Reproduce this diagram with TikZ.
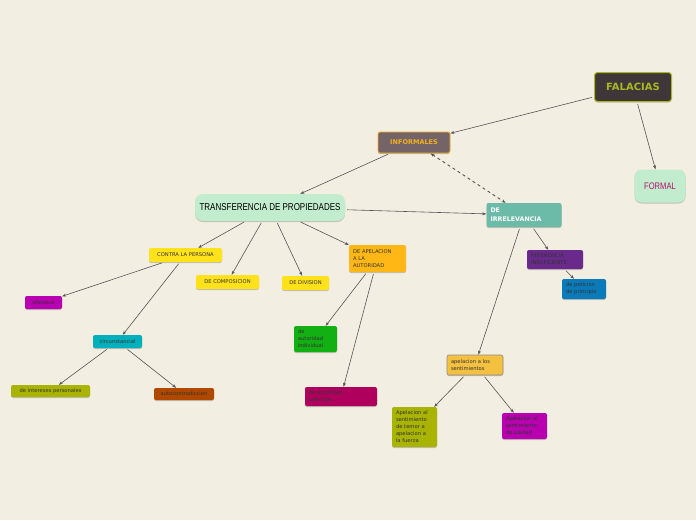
\documentclass[tikz,border=0pt]{standalone}
\usepackage{fontspec}
\setmainfont{DejaVu Sans}
\newfontfamily\narrowfont[FakeStretch=0.8]{Liberation Sans}
\usepackage{tikz}
\usetikzlibrary{arrows.meta, shapes, shadows}

\definecolor{paper}{HTML}{F3EEE2}
\definecolor{linegray}{HTML}{555555}
\definecolor{rootfill}{HTML}{3E3639}
\definecolor{rootline}{HTML}{A8B820}
\definecolor{infofill}{HTML}{746468}
\definecolor{infoline}{HTML}{F2B01E}
\definecolor{mint}{HTML}{C2ECCE}
\definecolor{berry}{HTML}{B5106E}
\definecolor{teal}{HTML}{6CBAA8}
\definecolor{lemon}{HTML}{FFE21A}
\definecolor{amber}{HTML}{FFB716}
\definecolor{fuchsia}{HTML}{B800B0}
\definecolor{aqua}{HTML}{00B0BC}
\definecolor{olivebox}{HTML}{A8B400}
\definecolor{rust}{HTML}{B04800}
\definecolor{leaf}{HTML}{12B012}
\definecolor{wine}{HTML}{B0005E}
\definecolor{grape}{HTML}{6A2A8C}
\definecolor{ocean}{HTML}{0A7AB8}
\definecolor{honey}{HTML}{F4C040}

\begin{document}
\begin{tikzpicture}[
			x=1pt, y=-1pt,
			box/.style={
				rectangle,
				rounded corners=2pt,
				inner sep=1pt,
				text=black!80,
				font=\fontsize{5.2}{7}\selectfont,
				drop shadow={shadow xshift=0pt, shadow yshift=-1pt, fill=black, opacity=0.2}
			},
			multi/.style={
				box,
				align=left,
				inner xsep=4pt,
				text width=#1
			},
			arrow/.style={
				-{Stealth[length=4pt, width=3pt]},
				draw=linegray,
				line width=0.6pt,
				shorten <=2pt
			}
			]
			
			% background
			\fill[paper] (0,0) rectangle (696,520);
			
			% top level
			\node[box, fill=rootfill, draw=rootline, line width=1pt, text=rootline, rounded corners=3pt, minimum width=77pt, minimum height=29pt, font=\fontsize{10}{11}\selectfont\bfseries] (falacias) at (633,87) {FALACIAS};
			\node[box, fill=infofill, draw=infoline, line width=0.8pt, text=infoline, minimum width=72pt, minimum height=21pt, font=\fontsize{6.5}{8}\selectfont\bfseries] (informales) at (414,142.5) {INFORMALES};
			\node[box, fill=mint, text=berry, rounded corners=7pt, minimum width=51pt, minimum height=33pt, font=\narrowfont\fontsize{9.5}{11}\selectfont] (formal) at (660,186) {FORMAL};
			
			% second level
			\node[box, fill=mint, text=black, rounded corners=8pt, minimum width=150pt, minimum height=27pt, font=\narrowfont\fontsize{10}{12}\selectfont] (transfer) at (270,207.5) {TRANSFERENCIA DE PROPIEDADES};
			\node[multi=67pt, fill=teal, text=white, minimum height=24pt, font=\fontsize{6.3}{9}\selectfont\bfseries] (irrelev) at (524,215) {DE\\IRRELEVANCIA};
			
			% under TRANSFERENCIA
			\node[box, fill=lemon, minimum width=73pt, minimum height=14pt] (persona) at (185.5,255) {CONTRA LA PERSONA};
			\node[box, fill=lemon, minimum width=63pt, minimum height=14pt] (compos) at (227.5,282) {DE COMPOSICION};
			\node[box, fill=lemon, minimum width=47pt, minimum height=14pt] (division) at (305.5,283) {DE DIVISION};
			\node[multi=49pt, fill=amber, minimum height=27pt] (autoridad) at (377.5,258.5) {DE APELACION\\A LA\\AUTORIDAD};
			
			% under CONTRA LA PERSONA
			\node[box, fill=fuchsia, minimum width=37pt, minimum height=13pt] (ofensivo) at (43.5,302.5) {ofensivo};
			\node[box, fill=aqua, minimum width=49pt, minimum height=13pt] (circuns) at (117.5,341.5) {circunstancial};
			\node[box, fill=olivebox, minimum width=79pt, minimum height=12pt] (intereses) at (50.5,391) {de intereses personales};
			\node[box, fill=rust, minimum width=60pt, minimum height=12pt] (autocontra) at (184,394) {autocontradiccion};
			
			% under DE APELACION A LA AUTORIDAD
			\node[multi=35pt, fill=leaf, minimum height=26pt] (individual) at (315.5,339) {de\\autoridad\\individual};
			\node[multi=64pt, fill=wine, minimum height=19pt] (colectiva) at (341,396.5) {de autoridad\\colectiva};
			
			% under DE IRRELEVANCIA
			\node[multi=48pt, fill=grape, minimum height=19pt] (referencia) at (555,259.5) {REFERENCIA\\INSUFICIENTE};
			\node[multi=36pt, fill=ocean, minimum height=20pt] (peticion) at (584,289) {de peticion\\de principio};
			\node[multi=48pt, fill=honey, draw=black!45, line width=0.6pt, minimum height=20pt] (sentim) at (475,365) {apelacion a los\\sentimientos};
			\node[multi=37pt, fill=olivebox, minimum height=40pt] (temor) at (414.5,427) {Apelacion al\\sentimiento\\de temor a\\apelacion a\\la fuerza};
			\node[multi=37pt, fill=fuchsia, minimum height=26pt] (piedad) at (524.5,426) {Apelacion al\\sentimiento\\de piedad};
			
			% connectors
			\draw[arrow] (falacias) -- (informales);
			\draw[arrow] (falacias) -- (formal);
			\draw[arrow] (informales) -- (transfer);
			\draw[arrow, {Stealth[length=4pt, width=3pt]}-{Stealth[length=4pt, width=3pt]}, dashed, line width=0.9pt, shorten <=0pt] (informales) -- (irrelev);
			\draw[arrow] (transfer) -- (irrelev);
			\draw[arrow] (transfer) -- (persona);
			\draw[arrow] (transfer) -- (compos);
			\draw[arrow] (transfer) -- (division);
			\draw[arrow] (transfer) -- (autoridad);
			\draw[arrow] (persona) -- (ofensivo);
			\draw[arrow] (persona) -- (circuns);
			\draw[arrow] (circuns) -- (intereses);
			\draw[arrow] (circuns) -- (autocontra);
			\draw[arrow] (autoridad) -- (individual);
			\draw[arrow] (autoridad) -- (colectiva);
			\draw[arrow] (irrelev) -- (referencia);
			\draw[arrow] (irrelev) -- (sentim);
			\draw[arrow] (referencia) -- (peticion);
			\draw[arrow] (sentim) -- (temor);
			\draw[arrow] (sentim) -- (piedad);
			
		\end{tikzpicture}
\end{document}
